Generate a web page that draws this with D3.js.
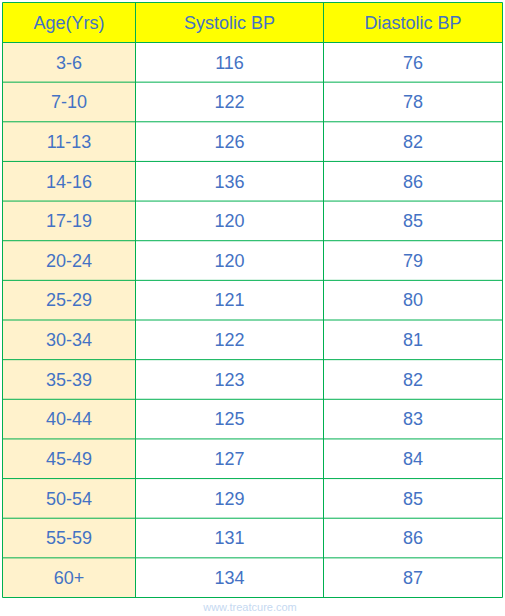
<!DOCTYPE html>
<html><head><meta charset="utf-8">
<script src="https://cdn.jsdelivr.net/npm/d3@7"></script>
<style>body{margin:0;background:#fff}</style></head>
<body><svg id="c" width="505" height="616"></svg>
<script>
const headers = ["Age(Yrs)", "Systolic BP", "Diastolic BP"];
const ages = ["3-6","7-10","11-13","14-16","17-19","20-24","25-29","30-34","35-39","40-44","45-49","50-54","55-59","60+"];
const systolic = [116,122,126,136,120,120,121,122,123,125,127,129,131,134];
const diastolic = [76,78,82,86,85,79,80,81,82,83,84,85,86,87];

(function(){
const svg = d3.select("#c");
const colEdges = [2.5, 135.5, 323.5, 502.5];
const tableTop = 2.5, headH = 40, bottom = 597.5;
const y = d3.scaleBand().domain(d3.range(ages.length)).range([tableTop + headH, bottom]);
const blue = "#4472c4", green = "#00b050";
const font = "Liberation Sans, Arial, sans-serif";

svg.append("rect").attr("x", colEdges[0]).attr("y", tableTop).attr("width", colEdges[3]-colEdges[0]).attr("height", headH).attr("fill", "#ffff00");
svg.append("rect").attr("x", colEdges[0]).attr("y", tableTop+headH).attr("width", colEdges[1]-colEdges[0]).attr("height", bottom-tableTop-headH).attr("fill", "#fff2cc");

headers.forEach((h,i)=>{
  svg.append("text").attr("x",(colEdges[i]+colEdges[i+1])/2).attr("y",tableTop+headH/2).attr("dy","0.35em")
    .attr("text-anchor","middle").attr("font-family",font).attr("font-size",18).attr("fill",blue).text(h);
});
const rows = ages.map((a,i)=>[a, systolic[i], diastolic[i]]);
rows.forEach((r,i)=>{
  r.forEach((v,j)=>{
    svg.append("text").attr("x",(colEdges[j]+colEdges[j+1])/2).attr("y",y(i)+y.bandwidth()/2).attr("dy","0.35em")
      .attr("text-anchor","middle").attr("font-family",font).attr("font-size",18).attr("fill",blue).text(v);
  });
});
const hl = [tableTop, tableTop+headH, ...d3.range(ages.length).map(i=>y(i)+y.bandwidth())];
hl.forEach(yy=>svg.append("line").attr("x1",colEdges[0]).attr("x2",colEdges[3]).attr("y1",yy).attr("y2",yy).attr("stroke",green).attr("stroke-width",1));
colEdges.forEach(xx=>svg.append("line").attr("x1",xx).attr("x2",xx).attr("y1",tableTop).attr("y2",bottom).attr("stroke",green).attr("stroke-width",1));

svg.append("text").attr("x",250).attr("y",611).attr("text-anchor","middle").attr("font-family",font)
  .attr("font-size",11).attr("fill","#c6d9f1").text("www.treatcure.com");
})();
</script></body></html>
